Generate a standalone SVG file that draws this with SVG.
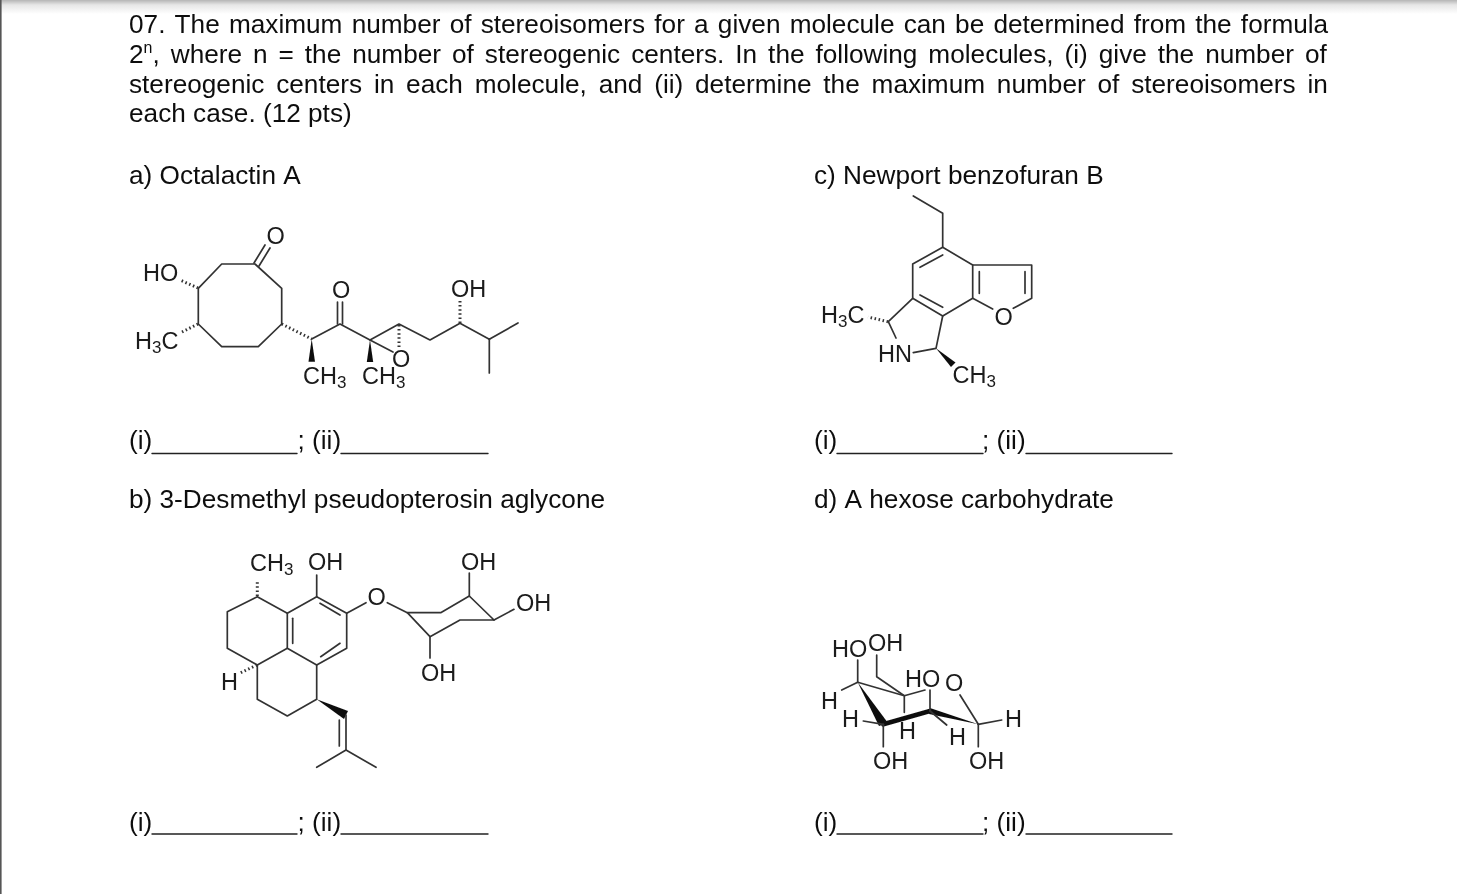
<svg xmlns="http://www.w3.org/2000/svg" width="1472" height="894" viewBox="0 0 1472 894">
<style>
text{font-family:"Liberation Sans",Arial,sans-serif;fill:#111}
.q{font-size:26.2px;font-kerning:none}
.l{font-size:23.5px;fill:#1a1a1a}
line,polyline,polygon.r{stroke:#333;stroke-width:1.7;fill:none;stroke-linecap:round;stroke-linejoin:round}
.h{stroke-dasharray:1.5 2.6;stroke-width:3;stroke-linecap:butt}
.u{stroke:#222;stroke-width:1.4}
.w{fill:#111;stroke:none}
.s{font-size:17px}
</style>
<defs>
<linearGradient id="top" x1="0" y1="0" x2="0" y2="1"><stop offset="0" stop-color="#b5b5b5"/><stop offset="0.35" stop-color="#e6e6e6"/><stop offset="1" stop-color="#fff"/></linearGradient>
<filter id="b" x="-2%" y="-2%" width="104%" height="104%"><feGaussianBlur stdDeviation="0.45"/></filter>
</defs>
<rect width="1472" height="894" fill="#fff"/>
<rect width="1457" height="14" fill="url(#top)"/>
<rect x="0" y="0" width="1.6" height="894" fill="#555"/>
<g filter="url(#b)">
<g id="question">
<text class="q" x="129" y="33" word-spacing="1.93">07. The maximum number of stereoisomers for a given molecule can be determined from the formula</text>
<text class="q" x="129" y="63" word-spacing="3.7">2<tspan font-size="16" dy="-10">n</tspan><tspan dy="10">, where n = the number of stereogenic centers. In the following molecules, (i) give the number of</tspan></text>
<text class="q" x="129" y="93" word-spacing="4.55">stereogenic centers in each molecule, and (ii) determine the maximum number of stereoisomers in</text>
<text class="q" x="129" y="122">each case. (12 pts)</text>
</g>
<g id="labels">
<text class="q" x="129" y="184">a) Octalactin A</text>
<text class="q" x="814" y="184">c) Newport benzofuran B</text>
<text class="q" x="129" y="508">b) 3-Desmethyl pseudopterosin aglycone</text>
<text class="q" x="814" y="508">d) A hexose carbohydrate</text>
</g>
<g id="answers">
<text class="q" x="129" y="449">(i)</text><line class="u" x1="152" y1="453.500" x2="297" y2="453.500"/><text class="q" x="297.500" y="449">; (ii)</text><line class="u" x1="341" y1="453.500" x2="488" y2="453.500"/>
<text class="q" x="814" y="449">(i)</text><line class="u" x1="837" y1="453.500" x2="983" y2="453.500"/><text class="q" x="982" y="449">; (ii)</text><line class="u" x1="1026" y1="453.500" x2="1172" y2="453.500"/>
<text class="q" x="129" y="831">(i)</text><line class="u" x1="152" y1="834" x2="297" y2="834"/><text class="q" x="297.500" y="831">; (ii)</text><line class="u" x1="341" y1="834" x2="488" y2="834"/>
<text class="q" x="814" y="831">(i)</text><line class="u" x1="837" y1="834" x2="983" y2="834"/><text class="q" x="982" y="831">; (ii)</text><line class="u" x1="1026" y1="834" x2="1172" y2="834"/>
</g>
<g id="molecule-a">
<polygon class="r" points="198.3,288.3 221.7,264 255,264 281.7,288.3 281.7,324 258.3,346.7 221.7,346.7 198.3,324"/>
<line x1="254" y1="263" x2="265" y2="245"/><line x1="259" y1="266" x2="270" y2="248"/>
<line class="h" x1="198" y1="288" x2="180" y2="280"/><line class="h" x1="198" y1="324" x2="180" y2="333"/><line class="h" x1="281.7" y1="324" x2="311.7" y2="339"/>
<polyline points="311.7,339 340,324 370,340 399,324 430,340 460,323.3 489.3,339.3 518,323"/>
<line x1="489.3" y1="339.3" x2="489.3" y2="373"/>
<line x1="337.5" y1="324" x2="337.5" y2="302"/><line x1="342.5" y1="324" x2="342.5" y2="302"/>
<polygon class="w" points="311.7,339 308.5,361.7 315,361.7"/><polygon class="w" points="370,340 366.8,362 373.2,362"/>
<line x1="370" y1="340" x2="393" y2="352"/><line class="h" x1="399" y1="325" x2="399" y2="347"/><line class="h" x1="460" y1="323" x2="460" y2="301"/>
<text class="l" x="143" y="281">HO</text><text class="l" x="135" y="349">H<tspan class="s" dy="4">3</tspan><tspan dy="-4">C</tspan></text>
<text class="l" x="266.500" y="244">O</text><text class="l" x="332" y="298">O</text><text class="l" x="451" y="297">OH</text>
<text class="l" x="303" y="384">CH<tspan class="s" dy="4">3</tspan></text><text class="l" x="362" y="384">CH<tspan class="s" dy="4">3</tspan></text><text class="l" x="392" y="367">O</text>
</g>
<g id="molecule-b">
<polyline points="287.3,613.3 257.3,596.7 227.3,611.7 227.3,648.3 257.3,665 287.3,648.3"/>
<polygon class="r" points="287.3,613.3 316.7,596.7 346.7,613.3 346.7,648.3 316.7,665 287.3,648.3"/>
<line x1="292.7" y1="618.3" x2="292.7" y2="643.3"/><line x1="320" y1="603.3" x2="340" y2="615"/><line x1="340" y1="643.3" x2="320.7" y2="656.7"/>
<line x1="316.7" y1="596.7" x2="316.7" y2="575"/>
<polyline points="257.3,665 257.3,699.3 287.3,716 316.7,699.3 316.7,665"/>
<polygon class="w" points="316.7,699.3 348,711 344,719"/>
<line x1="346" y1="715" x2="346" y2="750"/><line x1="339.3" y1="720" x2="339.3" y2="746"/>
<polyline points="316.7,767.3 346,750 376,767.3"/>
<line class="h" x1="257.3" y1="596" x2="257.3" y2="580"/><line class="h" x1="257" y1="665" x2="240" y2="673"/>
<line x1="346.7" y1="613.3" x2="366" y2="602.7"/><line x1="387.3" y1="602.7" x2="407.3" y2="612.7"/>
<polygon class="r" points="407.3,612.7 440.7,612.7 469.3,596 494,620 460,620 430,636.7"/>
<line x1="469.3" y1="596" x2="469.3" y2="573"/><line x1="494" y1="620" x2="514" y2="609.3"/><line x1="430" y1="636.7" x2="430" y2="658"/>
<text class="l" x="250" y="571">CH<tspan class="s" dy="4">3</tspan></text><text class="l" x="308" y="570">OH</text><text class="l" x="461" y="570">OH</text><text class="l" x="516" y="611">OH</text><text class="l" x="421" y="681">OH</text><text class="l" x="221" y="690">H</text><text class="l" x="367.500" y="605">O</text>
</g>
<g id="molecule-c">
<polyline points="913.3,196 942.7,213.3 942.7,247.3"/>
<polygon class="r" points="942.7,247.3 912.7,264 912.7,298.3 942.7,316 972.7,298.3 972.7,265"/>
<line x1="920" y1="267.3" x2="942.7" y2="255"/><line x1="920" y1="295" x2="942.7" y2="307.3"/>
<polyline points="972.7,265 1031.7,265 1031.7,298.3 1013.3,308.3"/><line x1="972.7" y1="298.3" x2="992.7" y2="309"/>
<line x1="979.3" y1="271.7" x2="979.3" y2="293.3"/><line x1="1025" y1="271.7" x2="1025" y2="293.3"/>
<polyline points="912.7,298.3 888.3,321.7 896,338"/><line class="h" x1="888" y1="321.7" x2="868" y2="317"/>
<polyline points="913.3,352.7 936,348.3 942.7,316"/>
<polygon class="w" points="936,348.3 955.5,362.5 951,367"/>
<text class="l" x="821" y="323">H<tspan class="s" dy="4">3</tspan><tspan dy="-4">C</tspan></text><text class="l" x="878" y="362">HN</text><text class="l" x="952.500" y="383">CH<tspan class="s" dy="4">3</tspan></text><text class="l" x="994.500" y="325">O</text>
</g>
<g id="molecule-d">
<polygon class="w" points="857.7,682.3 879,726 888,723"/>
<line x1="883.3" y1="724.3" x2="930" y2="711" style="stroke:#111;stroke-width:4.6"/>
<polygon class="w" points="930,708 978.3,724.3 929,714"/>
<line x1="857.7" y1="682.3" x2="857.7" y2="660"/><line x1="857.7" y1="682.3" x2="841.7" y2="690"/>
<polyline points="857.7,682.3 904.3,695.7 925,690"/><polyline points="904.3,712.3 904.3,695.7 876.7,676.7 876.7,655"/>
<line x1="930" y1="711" x2="930" y2="690"/><line x1="960" y1="695" x2="978.3" y2="724.3"/>
<line x1="883.3" y1="724.3" x2="863.3" y2="721"/><line x1="883.3" y1="724.3" x2="883.3" y2="746.7"/>
<line x1="930" y1="711" x2="946.7" y2="725"/><line x1="978.3" y1="724.3" x2="1001.7" y2="720"/><line x1="978.3" y1="724.3" x2="978.3" y2="746.7"/>
<text class="l" x="832" y="657">HO</text><text class="l" x="868" y="651">OH</text><text class="l" x="821" y="709">H</text><text class="l" x="905" y="687">HO</text><text class="l" x="945" y="691">O</text><text class="l" x="842" y="727">H</text><text class="l" x="899" y="739">H</text><text class="l" x="949" y="745">H</text><text class="l" x="1005" y="727">H</text><text class="l" x="873" y="769">OH</text><text class="l" x="969" y="769">OH</text>
</g>
</g>
</svg>
